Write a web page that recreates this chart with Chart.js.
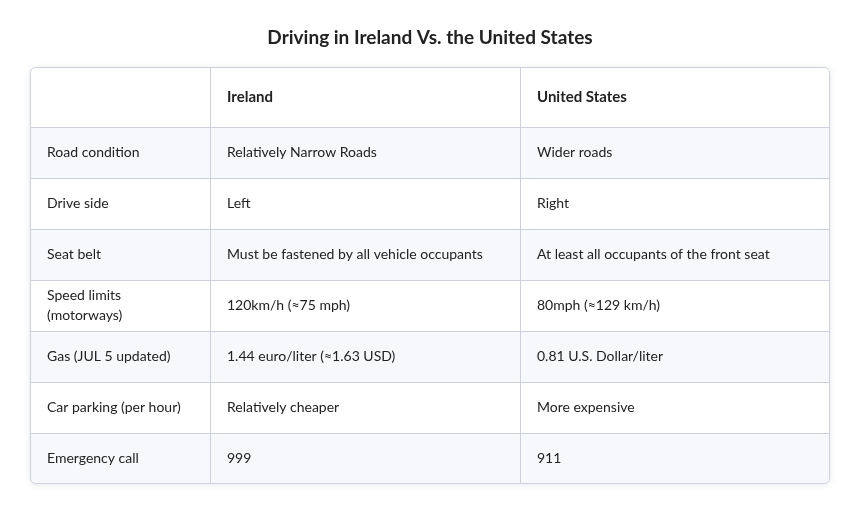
<!DOCTYPE html>
<html><head><meta charset="utf-8">
<script src="https://cdn.jsdelivr.net/npm/chart.js@4"></script>
<style>html,body{margin:0;padding:0;background:#fff}#w{width:860px;height:514px}</style>
</head><body><div id="w"><canvas id="c"></canvas></div>
<script>
const title = "Driving in Ireland Vs. the United States";
const headers = ["", "Ireland", "United States"];
const features = ["Road condition","Drive side","Seat belt","Speed limits\n(motorways)","Gas (JUL 5 updated)","Car parking (per hour)","Emergency call"];
const ireland = ["Relatively Narrow Roads","Left","Must be fastened by all vehicle occupants","120km/h (≈75 mph)","1.44 euro/liter (≈1.63 USD)","Relatively cheaper","999"];
const unitedStates = ["Wider roads","Right","At least all occupants of the front seat","80mph (≈129 km/h)","0.81 U.S. Dollar/liter","More expensive","911"];
const colEdges = [0, 0.675, 1.8375, 3];
const FONT = "Lato, 'Noto Sans', sans-serif";

const tablePlugin = {
  id: 'table',
  afterDraw(chart) {
    const ctx = chart.ctx, xs = chart.scales.x, ys = chart.scales.y;
    const a = chart.chartArea;
    const rowEdge = i => ys.getPixelForValue(i === 0 ? 0 : 1.18 + (i - 1));
    const nRows = features.length + 1;
    ctx.save();
    // title
    ctx.fillStyle = '#222';
    ctx.font = "bold 19px " + FONT;
    ctx.textAlign = 'center'; ctx.textBaseline = 'middle';
    ctx.fillText(title, (a.left + a.right) / 2, 38);
    // shadow + rounded box
    const r = 5;
    ctx.shadowColor = 'rgba(60,70,110,0.12)'; ctx.shadowBlur = 6; ctx.shadowOffsetY = 1;
    ctx.beginPath(); ctx.roundRect(a.left, a.top, a.right - a.left, a.bottom - a.top, r);
    ctx.fillStyle = '#fff'; ctx.fill();
    ctx.shadowColor = 'transparent';
    // row fills
    ctx.save(); ctx.clip();
    for (let i = 1; i < nRows; i++) {
      if (i % 2 === 1) {
        ctx.fillStyle = '#f7f8fb';
        ctx.fillRect(a.left, rowEdge(i), a.right - a.left, rowEdge(i + 1) - rowEdge(i));
      }
    }
    ctx.restore();
    // grid lines
    ctx.strokeStyle = '#cdd1df'; ctx.lineWidth = 1;
    for (let i = 1; i < nRows; i++) {
      const y = Math.round(rowEdge(i)) + 0.5;
      ctx.beginPath(); ctx.moveTo(a.left, y); ctx.lineTo(a.right, y); ctx.stroke();
    }
    for (let j = 1; j < colEdges.length - 1; j++) {
      const x = Math.round(xs.getPixelForValue(colEdges[j])) + 0.5;
      ctx.beginPath(); ctx.moveTo(x, a.top); ctx.lineTo(x, a.bottom); ctx.stroke();
    }
    ctx.beginPath(); ctx.roundRect(a.left + 0.5, a.top + 0.5, a.right - a.left - 1, a.bottom - a.top - 1, r);
    ctx.stroke();
    // text
    ctx.textAlign = 'left'; ctx.textBaseline = 'middle'; ctx.fillStyle = '#222';
    const cell = (txt, col, row, bold) => {
      const x = xs.getPixelForValue(colEdges[col]) + 17;
      const yc = (rowEdge(row) + rowEdge(row + 1)) / 2;
      ctx.font = (bold ? "bold 15px " : "14px ") + FONT;
      const lines = txt.split("\n");
      lines.forEach((l, k) => ctx.fillText(l, x, yc + (k - (lines.length - 1) / 2) * 20));
    };
    headers.forEach((h, j) => cell(h, j, 0, true));
    features.forEach((f, i) => {
      cell(f, 0, i + 1); cell(ireland[i], 1, i + 1); cell(unitedStates[i], 2, i + 1);
    });
    ctx.restore();
  }
};

new Chart(document.getElementById('c'), {
  type: 'scatter',
  data: { datasets: [{ data: [] }] },
  options: {
    responsive: true, maintainAspectRatio: false, animation: false,
    layout: { padding: { left: 30, right: 30, top: 67, bottom: 30 } },
    plugins: { legend: { display: false }, tooltip: { enabled: false }, title: { display: false } },
    scales: {
      x: { type: 'linear', min: 0, max: 3, display: false },
      y: { type: 'linear', min: 0, max: 1.18 + features.length, reverse: true, display: false }
    }
  },
  plugins: [tablePlugin]
});
</script></body></html>
